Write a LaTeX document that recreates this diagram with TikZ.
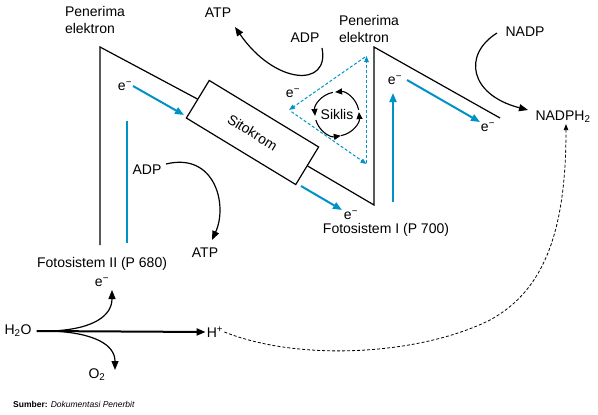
\documentclass[tikz,border=0pt]{standalone}
\usepackage{fontspec}
\setmainfont{Liberation Sans}
\usetikzlibrary{arrows.meta,calc}
\definecolor{cyanline}{RGB}{0,146,199}

\begin{document}
\begin{tikzpicture}
  [
    x=1pt, y=-1pt,
    font=\fontsize{14}{16.5}\selectfont,
    >={Triangle[length=9pt,width=7pt]},
    wall/.style  = {line width=1.2pt, line join=miter},
    flow/.style  = {->, draw=cyanline, line width=2pt},
    cycl/.style  = {-{Triangle[length=6pt,width=4.5pt]}, draw=cyanline,
                    dash pattern=on 3pt off 2pt, line width=1pt},
    curv/.style  = {->, line width=1.2pt},
    turn/.style  = {-{Triangle[length=7pt,width=6pt]}, line width=1.1pt},
    lbl/.style   = {inner sep=1pt, align=left}
  ]
  \useasboundingbox (0,0) rectangle (598,415);

  % labels
  \node [lbl] at ( 95, 20) (pen1)  {Penerima\\elektron};
  \node [lbl] at (369, 29) (pen2)  {Penerima\\elektron};
  \node [lbl] at (218, 13) (atp1)  {ATP};
  \node [lbl] at (305, 38) (adp1)  {ADP};
  \node [lbl] at (525, 32) (nadp)  {NADP};
  \node [lbl] at (563,117) (nadph) {NADPH\textsubscript{2}};
  \node [lbl] at (125, 86) (e1)    {e\textsuperscript{−}};
  \node [lbl] at (293, 93) (e2)    {e\textsuperscript{−}};
  \node [lbl] at (395, 80) (e3)    {e\textsuperscript{−}};
  \node [lbl] at (488,127) (e4)    {e\textsuperscript{−}};
  \node [lbl] at (351,215) (e5)    {e\textsuperscript{−}};
  \node [lbl] at (147,170) (adp2)  {ADP};
  \node [lbl] at (205,253) (atp2)  {ATP};
  \node [lbl] at (102,264) (fs2)   {Fotosistem II (P 680)};
  \node [lbl] at (386,230) (fs1)   {Fotosistem I (P 700)};
  \node [lbl] at (337,114) (sik)   {Siklis};
  \node [lbl] at (102,282) (e6)    {e\textsuperscript{−}};
  \node [lbl] at ( 18,331) (h2o)   {H\textsubscript{2}O};
  \node [lbl] at (215,332) (hp)    {H\textsuperscript{+}};
  \node [lbl] at ( 97,375) (o2)    {O\textsubscript{2}};
  \node [lbl, anchor=west, font=\fontsize{8.5}{10}\selectfont] at (12,404) (src)
    {\textbf{Sumber:} \textit{Dokumentasi Penerbit}};

  % photosystems and cytochrome
  \node [draw, wall, rotate=-31.3, minimum width=128pt, minimum height=44pt]
    at (252.5,132.5) (sito) {Sitokrom};
  \coordinate (p2b) at (100,245);
  \coordinate (p2t) at (100, 47);
  \coordinate (p1b) at (374,205);
  \coordinate (p1t) at (374, 47);
  \coordinate (p1r) at (500,118);
  \draw [wall] (p2b) -- (p2t) -- (sito.west);
  \draw [wall] (sito.east) -- (p1b) -- (p1t) -- (p1r);

  % electron flow
  \coordinate (f1a) at (133, 86);  \coordinate (f1b) at (184,115);
  \coordinate (f2a) at (301,186);  \coordinate (f2b) at (342,210);
  \coordinate (f3a) at (393,202);  \coordinate (f3b) at (393, 93);
  \coordinate (f4a) at (407, 80);  \coordinate (f4b) at (480,122);
  \coordinate (b2a) at (127,121);  \coordinate (b2b) at (127,243);
  \draw [flow] (f1a) -- (f1b);
  \draw [flow] (f2a) -- (f2b);
  \draw [flow] (f3a) -- (f3b);
  \draw [flow] (f4a) -- (f4b);
  \draw [flow, -] (b2a) -- (b2b);

  % cyclic path
  \coordinate (tt) at (366.5, 56);
  \coordinate (tl) at (289,110);
  \coordinate (tb) at (366.5,164);
  \draw [cycl, shorten <=2pt] (tt) -- (tl);
  \draw [cycl, shorten <=3pt] (tl) -- (tb);
  \draw [cycl, shorten <=1pt] (tb) -- (tt);
  \foreach \h in {5,95,185,280}
    \draw [turn] ($(sik.center)+({-\h+84}:22)$) arc [start angle=-\h+84, end angle=-\h, radius=22];

  % ATP, NADP
  \coordinate (a1) at (322, 48);  \coordinate (a1t) at (235, 27);
  \coordinate (a2) at (166,164);  \coordinate (a2t) at (212,240);
  \coordinate (n1) at (497, 33);  \coordinate (n1t) at (528,110);
  \draw [curv] (a1) .. controls (330,88) and (275,85) .. (a1t);
  \draw [curv] (a2) .. controls (215,152) and (228,205) .. (a2t);
  \draw [curv] (n1) .. controls (462,55) and (470,95) .. (n1t);

  % water splitting
  \coordinate (fork) at (52,331);
  \coordinate (eup)  at (112,290);
  \coordinate (odn)  at (115,370);
  \draw [->, line width=2pt] (h2o.east) ++(4,0) -- (hp.west);
  \draw [curv] (fork) .. controls (95,329) and (112,315) .. (eup);
  \draw [curv] (fork) .. controls (95,333) and (115,345) .. (odn);
  \draw [-{Triangle[length=6pt,width=4.5pt]}, dash pattern=on 3pt off 2pt, line width=0.8pt]
    (hp.east) .. controls (300,362) and (420,355) .. (490,320)
              .. controls (545,290) and (566,230) .. ([xshift=3pt]nadph.south);

\end{tikzpicture}
\end{document}
